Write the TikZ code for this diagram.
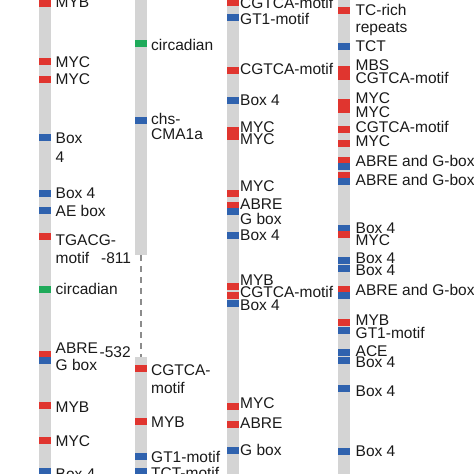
\documentclass[tikz,border=0pt]{standalone}
\usepackage{fontspec}
\setmainfont{Liberation Sans}
\definecolor{barGray}{HTML}{D4D4D4}
\definecolor{siteRed}{HTML}{E0352F}
\definecolor{siteBlue}{HTML}{2F62AE}
\definecolor{siteGreen}{HTML}{1FAA5A}
\definecolor{txtGray}{HTML}{1A1A1A}
\def\site(#1,#2)#3{\fill[#3] (#1,#2) rectangle ++(12,6.5);}
\tikzset{lbl/.style={anchor=base west, inner sep=0pt, text=txtGray, font=\fontsize{15.5}{17}\selectfont}}

\begin{document}
\begin{tikzpicture}[x=1pt, y=-1pt]
		\useasboundingbox (0,0) rectangle (474,474);
		
		%%%%% bars %%%%%
		\fill[barGray] (39,0) rectangle (51,474);
		\fill[barGray] (135,0) rectangle (147,255);
		\fill[barGray] (135,357) rectangle (147,474);
		\fill[barGray] (227,0) rectangle (239,474);
		\fill[barGray] (338,0) rectangle (350,474);
		
		\coordinate (gapTop) at (141,255);
		\coordinate (gapBot) at (141,357);
		\draw[line width=1.6pt, color=black!45, dash pattern=on 6pt off 5pt] (gapTop) -- (gapBot);
		
		%%%%% first promoter %%%%%
		\site(39,0){siteRed} \site(39,58){siteRed} \site(39,76){siteRed}
		\site(39,134){siteBlue} \site(39,190){siteBlue} \site(39,207){siteBlue}
		\site(39,233){siteRed} \site(39,286){siteGreen}
		\site(39,351){siteRed} \site(39,357){siteBlue}
		\site(39,402){siteRed} \site(39,437){siteRed} \site(39,468){siteBlue}
		
		\node[lbl] (a1) at (55.5,7) {MYB};
		\node[lbl] (a2) at (55.5,67) {MYC};
		\node[lbl] (a3) at (55.5,84) {MYC};
		\node[lbl] (a4) at (55.5,143) {Box};
		\node[lbl] (a5) at (55.5,162) {4};
		\node[lbl] (a6) at (55.5,198) {Box 4};
		\node[lbl] (a7) at (55.5,216) {AE box};
		\node[lbl] (a8) at (55.5,245) {TGACG-};
		\node[lbl] (a9) at (55.5,263) {motif};
		\node[lbl] (a10) at (55.5,294) {circadian};
		\node[lbl] (a11) at (55.5,353) {ABRE};
		\node[lbl] (a12) at (55.5,370) {G box};
		\node[lbl] (a13) at (55.5,412) {MYB};
		\node[lbl] (a14) at (55.5,446) {MYC};
		\node[lbl] (a15) at (55.5,479) {Box 4};
		
		\node[lbl] (cut1) at (101,263) {-811};
		\node[lbl] (cut2) at (99.5,357) {-532};
		
		%%%%% second promoter %%%%%
		\site(135,40){siteGreen} \site(135,117){siteBlue}
		\site(135,365){siteRed} \site(135,418){siteRed}
		\site(135,453){siteBlue} \site(135,468){siteBlue}
		
		\node[lbl] (b1) at (151,50) {circadian};
		\node[lbl] (b2) at (151,124) {chs-};
		\node[lbl] (b3) at (151,139) {CMA1a};
		\node[lbl] (b4) at (151,375) {CGTCA-};
		\node[lbl] (b5) at (151,393) {motif};
		\node[lbl] (b6) at (151,427) {MYB};
		\node[lbl] (b7) at (151,462) {GT1-motif};
		\node[lbl] (b8) at (151,478) {TCT-motif};
		
		%%%%% third promoter %%%%%
		\site(227,-1){siteRed} \site(227,14){siteBlue} \site(227,67){siteRed}
		\site(227,97){siteBlue} \site(227,127){siteRed} \site(227,133){siteRed}
		\site(227,190){siteRed} \site(227,202){siteRed} \site(227,208){siteBlue}
		\site(227,232){siteBlue} \site(227,283){siteRed} \site(227,292){siteRed}
		\site(227,300){siteBlue} \site(227,403){siteRed} \site(227,421){siteRed}
		\site(227,447){siteBlue}
		
		\node[lbl] (c1) at (240,8) {CGTCA-motif};
		\node[lbl] (c2) at (240,24) {GT1-motif};
		\node[lbl] (c3) at (240,74) {CGTCA-motif};
		\node[lbl] (c4) at (240,105) {Box 4};
		\node[lbl] (c5) at (240,132) {MYC};
		\node[lbl] (c6) at (240,144) {MYC};
		\node[lbl] (c7) at (240,191) {MYC};
		\node[lbl] (c8) at (240,209) {ABRE};
		\node[lbl] (c9) at (240,224) {G box};
		\node[lbl] (c10) at (240,240) {Box 4};
		\node[lbl] (c11) at (240,285) {MYB};
		\node[lbl] (c12) at (240,297) {CGTCA-motif};
		\node[lbl] (c13) at (240,310) {Box 4};
		\node[lbl] (c14) at (240,408) {MYC};
		\node[lbl] (c15) at (240,428) {ABRE};
		\node[lbl] (c16) at (240,455) {G box};
		
		%%%%% fourth promoter %%%%%
		\site(338,7){siteRed} \site(338,43){siteBlue}
		\site(338,66){siteRed} \site(338,73){siteRed}
		\site(338,99){siteRed} \site(338,106){siteRed}
		\site(338,126){siteRed} \site(338,140){siteRed}
		\site(338,157){siteRed} \site(338,163){siteBlue}
		\site(338,172){siteRed} \site(338,178){siteBlue}
		\site(338,225){siteBlue} \site(338,231){siteRed}
		\site(338,257){siteBlue} \site(338,265){siteBlue}
		\site(338,286){siteRed} \site(338,292){siteBlue}
		\site(338,319){siteRed} \site(338,327){siteBlue}
		\site(338,349){siteBlue} \site(338,357){siteBlue}
		\site(338,385){siteBlue} \site(338,448){siteBlue}
		
		\node[lbl] (d1) at (355.5,15) {TC-rich};
		\node[lbl] (d2) at (355.5,32) {repeats};
		\node[lbl] (d3) at (355.5,51) {TCT};
		\node[lbl] (d4) at (355.5,70) {MBS};
		\node[lbl] (d5) at (355.5,83) {CGTCA-motif};
		\node[lbl] (d6) at (355.5,103) {MYC};
		\node[lbl] (d7) at (355.5,117) {MYC};
		\node[lbl] (d8) at (355.5,132) {CGTCA-motif};
		\node[lbl] (d9) at (355.5,146) {MYC};
		\node[lbl] (d10) at (355.5,166) {ABRE and G-box};
		\node[lbl] (d11) at (355.5,185) {ABRE and G-box};
		\node[lbl] (d12) at (355.5,233) {Box 4};
		\node[lbl] (d13) at (355.5,245) {MYC};
		\node[lbl] (d14) at (355.5,263) {Box 4};
		\node[lbl] (d15) at (355.5,275) {Box 4};
		\node[lbl] (d16) at (355.5,295) {ABRE and G-box};
		\node[lbl] (d17) at (355.5,325) {MYB};
		\node[lbl] (d18) at (355.5,338) {GT1-motif};
		\node[lbl] (d19) at (355.5,356) {ACE};
		\node[lbl] (d20) at (355.5,367) {Box 4};
		\node[lbl] (d21) at (355.5,396) {Box 4};
		\node[lbl] (d22) at (355.5,456) {Box 4};
		
		%%%%% END %%%%%
	\end{tikzpicture}
\end{document}
